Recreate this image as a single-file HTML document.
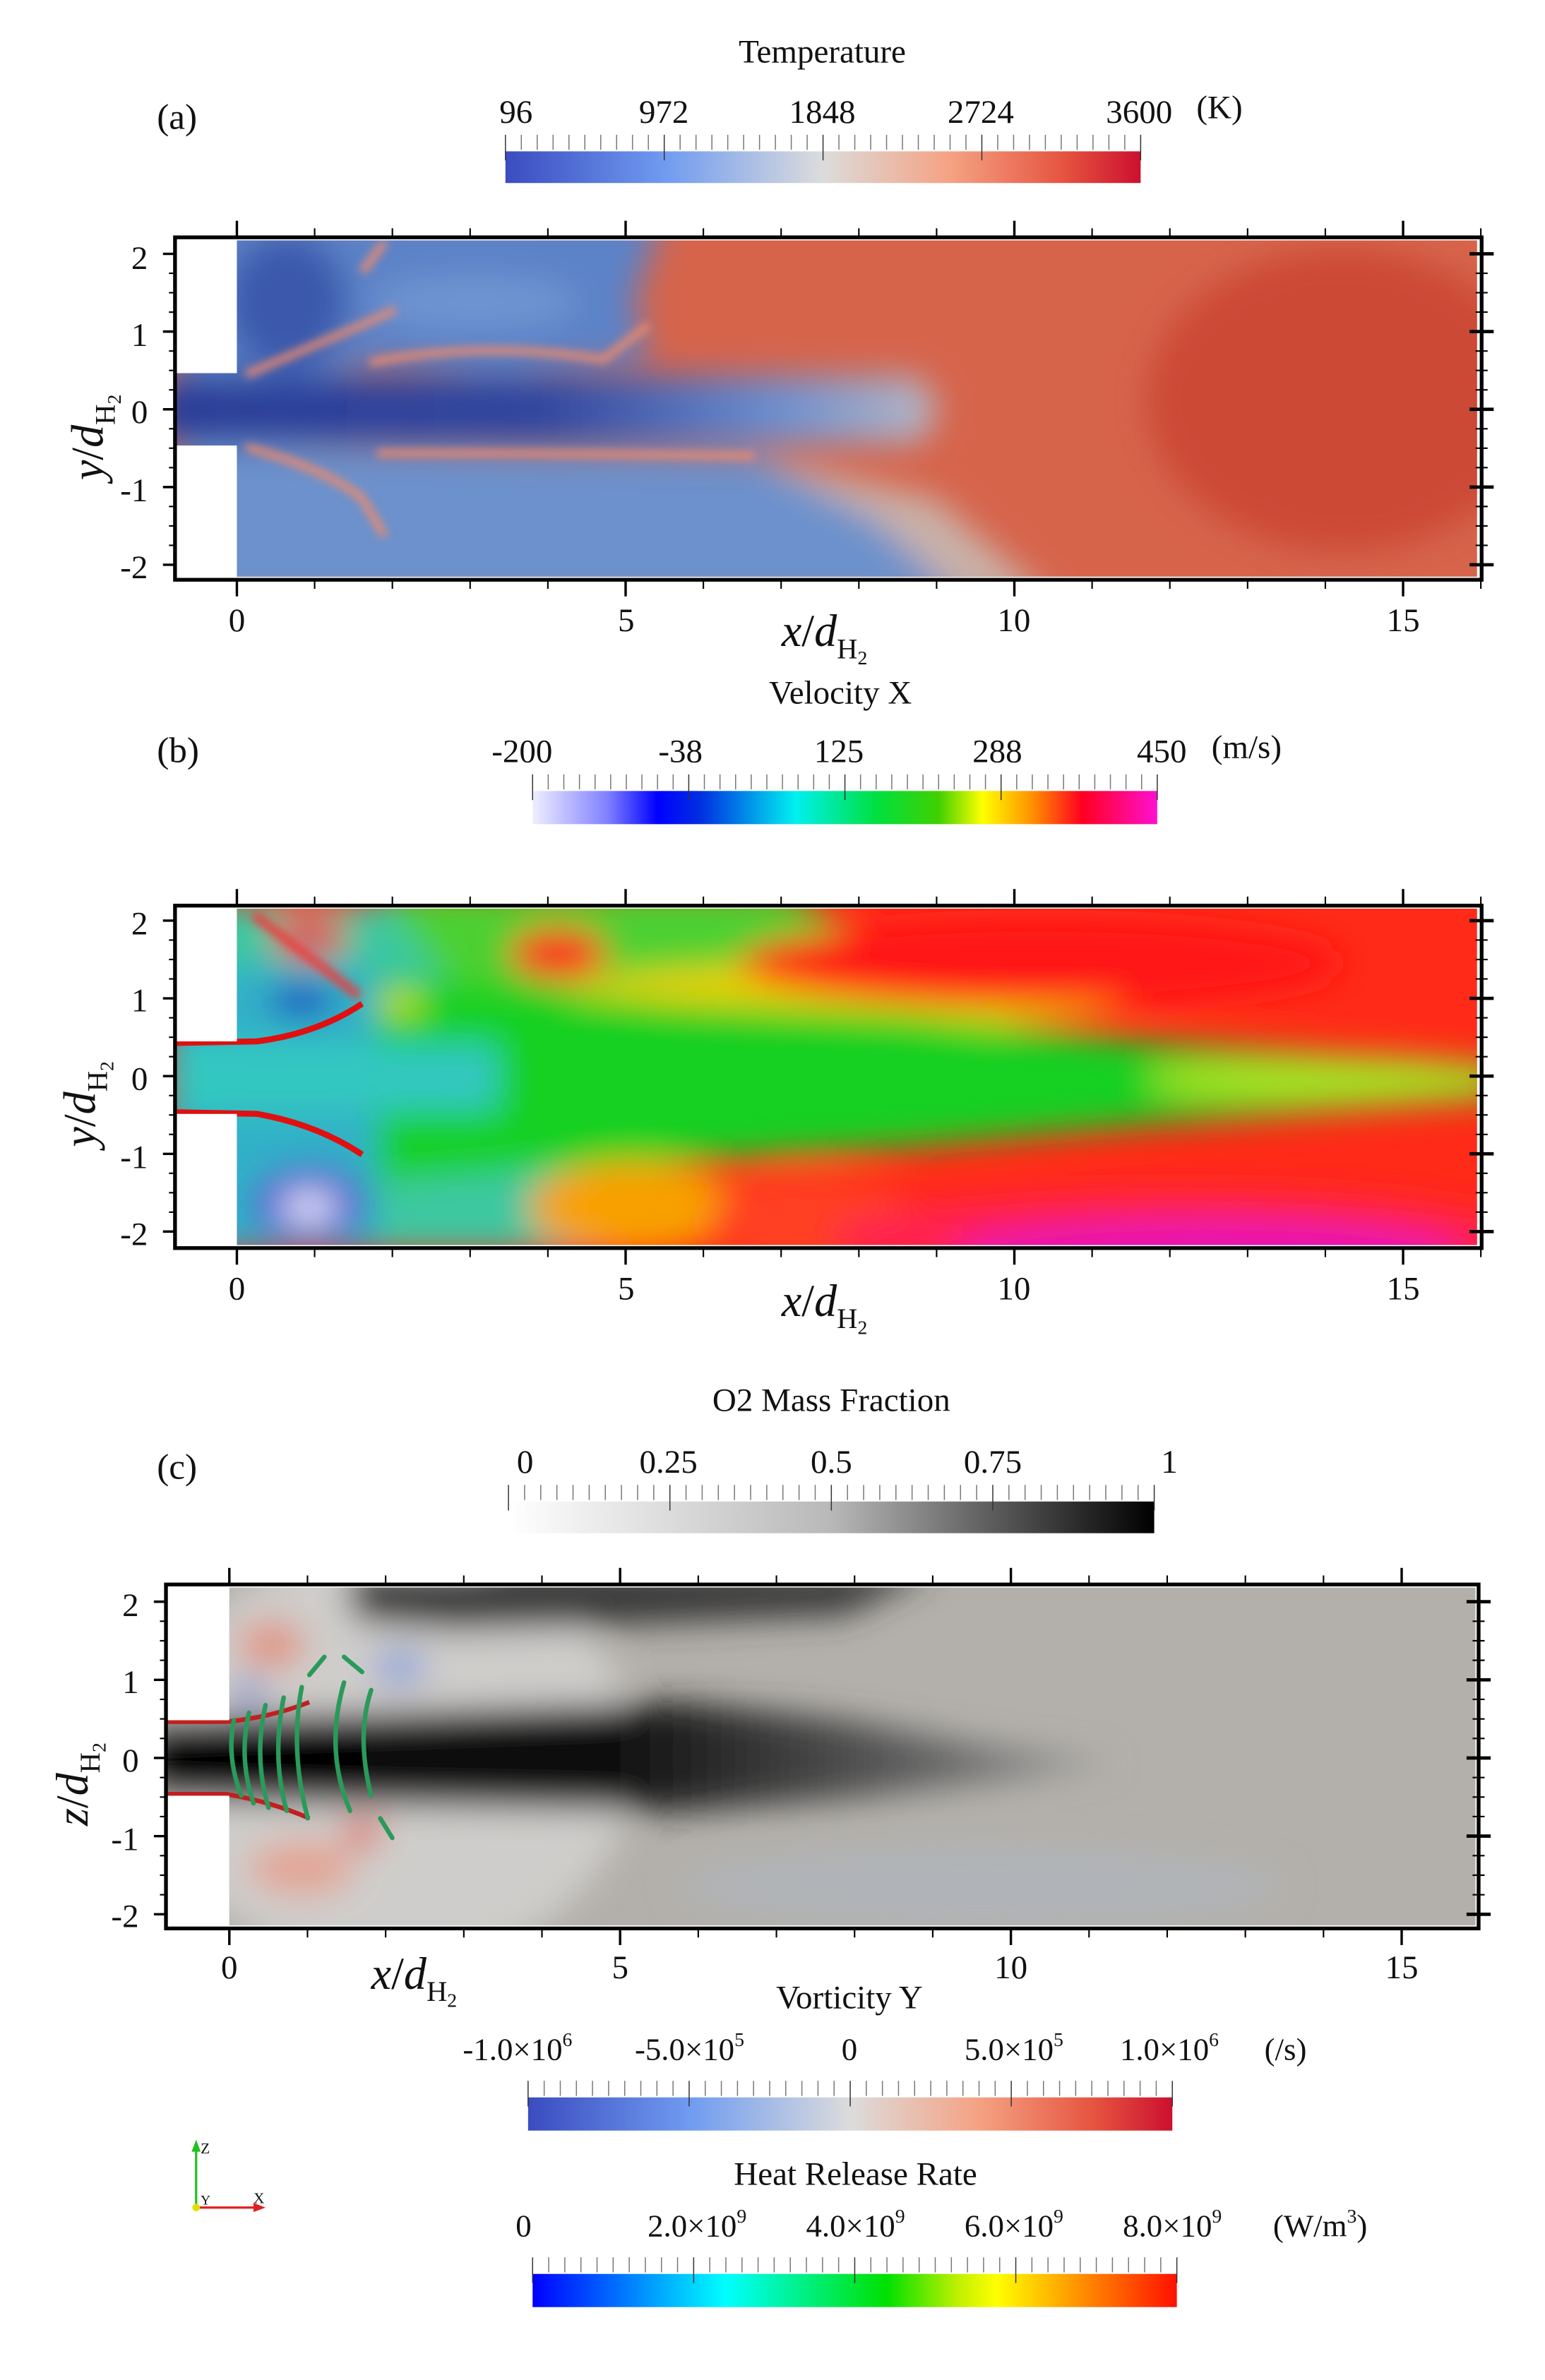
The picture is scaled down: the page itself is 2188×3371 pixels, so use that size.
<!DOCTYPE html>
<html><head><meta charset="utf-8"><style>
html,body{margin:0;padding:0;background:#fff}
svg{display:block}
text{font-family:"Liberation Serif",serif;fill:#111}
</style></head><body>
<svg id="s" width="2188" height="3371" viewBox="0 0 1024 1577" xmlns="http://www.w3.org/2000/svg">
<defs>
<linearGradient id="gT" x1="0" x2="1"><stop offset="0" stop-color="#3b4cc0"/><stop offset=".25" stop-color="#6f9bf0"/><stop offset=".5" stop-color="#dcdcdc"/><stop offset=".7" stop-color="#f5a283"/><stop offset=".88" stop-color="#e5533f"/><stop offset="1" stop-color="#cc1030"/></linearGradient>
<linearGradient id="gV" x1="0" x2="1"><stop offset="0" stop-color="#eeeeff"/><stop offset=".12" stop-color="#8080ff"/><stop offset=".2" stop-color="#0000ff"/><stop offset=".27" stop-color="#0030e0"/><stop offset=".42" stop-color="#00f0f0"/><stop offset=".55" stop-color="#00e040"/><stop offset=".65" stop-color="#40d000"/><stop offset=".72" stop-color="#ffff00"/><stop offset=".8" stop-color="#ff9000"/><stop offset=".88" stop-color="#ff0020"/><stop offset="1" stop-color="#ff10d0"/></linearGradient>
<linearGradient id="gO" x1="0" x2="1"><stop offset="0" stop-color="#ffffff"/><stop offset=".5" stop-color="#b8b8b8"/><stop offset="1" stop-color="#000"/></linearGradient>
<linearGradient id="gH" x1="0" x2="1"><stop offset="0" stop-color="#0000ff"/><stop offset=".3" stop-color="#00ffff"/><stop offset=".55" stop-color="#00e000"/><stop offset=".66" stop-color="#c0f000"/><stop offset=".72" stop-color="#ffff00"/><stop offset=".85" stop-color="#ff9000"/><stop offset="1" stop-color="#ff1000"/></linearGradient>
<linearGradient id="gCore" x1="0" x2="1"><stop offset="0" stop-color="#050505"/><stop offset=".45" stop-color="#080808"/><stop offset=".75" stop-color="#555"/><stop offset="1" stop-color="#9a9a9a"/></linearGradient>
<linearGradient id="gCoreA" x1="0" x2="1"><stop offset="0" stop-color="#2a3d98"/><stop offset=".5" stop-color="#2f46a0"/><stop offset=".8" stop-color="#6d8fcf"/><stop offset="1" stop-color="#b9b6c2"/></linearGradient>
<filter id="b5" filterUnits="userSpaceOnUse" x="0" y="0" width="1024" height="1577"><feGaussianBlur stdDeviation="11"/></filter>
<filter id="b2" filterUnits="userSpaceOnUse" x="0" y="0" width="1024" height="1577"><feGaussianBlur stdDeviation="3"/></filter>
<clipPath id="ca"><rect x="157" y="159" width="822" height="223"/><rect x="116" y="247" width="41" height="48"/></clipPath>
<clipPath id="cb"><rect x="157" y="602" width="822" height="223"/><rect x="116" y="690" width="41" height="48"/></clipPath>
<clipPath id="cc"><rect x="152" y="1052" width="826" height="224"/><rect x="110" y="1140" width="42" height="50"/></clipPath>
</defs>

<!-- Panel a -->
<text x="545" y="41" font-size="22" text-anchor="middle">Temperature</text>
<text x="104" y="85" font-size="24">(a)</text>
<g font-size="22" text-anchor="middle"><text x="342" y="81">96</text><text x="440" y="81">972</text><text x="545" y="81">1848</text><text x="650" y="81">2724</text><text x="755" y="81">3600</text></g>
<text x="793" y="78" font-size="22">(K)</text>
<rect x="335" y="100" width="421" height="21" fill="url(#gT)"/>
<g id="cba" data-x="335" data-w="421" data-y="100"></g>

<g clip-path="url(#ca)">
<rect x="110" y="155" width="880" height="230" fill="#d6644b"/>
<g filter="url(#b5)">
<ellipse cx="890" cy="265" rx="130" ry="100" fill="#cc4a36"/>
<polygon points="120,140 440,140 420,200 430,238 330,248 250,240 200,252 120,252" fill="#5b82c8"/>
<ellipse cx="190" cy="200" rx="40" ry="45" fill="#3a58ac"/>
<polygon points="120,292 260,298 500,302 580,345 640,400 120,400" fill="#6c91cc"/>
<polygon points="500,302 580,345 640,400 700,400 620,330" fill="#c9b1a8"/>
<rect x="100" y="249" width="520" height="45" rx="20" fill="url(#gCoreA)"/>
<ellipse cx="315" cy="200" rx="70" ry="18" fill="#7094d0"/>
</g>
<g filter="url(#b2)" fill="none" stroke="#ea8a6e" stroke-width="5">
<path d="M163,248 Q210,228 240,215 L262,205"/>
<path d="M245,240 Q320,225 400,238 L430,215"/>
<path d="M240,180 L255,160"/>
<path d="M163,296 Q215,310 240,330 L255,355"/>
<path d="M250,300 Q380,300 500,302"/>
</g>
</g>

<!-- Panel b -->
<text x="557" y="466" font-size="22" text-anchor="middle">Velocity X</text>
<text x="104" y="505" font-size="24">(b)</text>
<g font-size="22" text-anchor="middle"><text x="346" y="505">-200</text><text x="451" y="505">-38</text><text x="556" y="505">125</text><text x="661" y="505">288</text><text x="770" y="505">450</text></g>
<text x="803" y="502" font-size="22">(m/s)</text>
<rect x="353" y="524" width="414" height="22" fill="url(#gV)"/>
<g id="cbb" data-x="353" data-w="414" data-y="524"></g>

<g clip-path="url(#cb)">
<rect x="110" y="598" width="880" height="232" fill="#ff2a18"/>
<g filter="url(#b5)">
<rect x="110" y="598" width="300" height="232" fill="#3cc8a0"/>
<polygon points="250,590 520,590 600,640 460,660 300,655" fill="#4cd030"/>
<ellipse cx="560" cy="660" rx="190" ry="22" fill="#e8d000"/>
<polygon points="157,650 300,650 450,665 600,672 760,690 990,705 990,728 760,745 600,760 450,770 350,775 157,790" fill="#14d024"/>
<ellipse cx="880" cy="715" rx="120" ry="16" fill="#a8e020"/>
<ellipse cx="690" cy="638" rx="200" ry="28" fill="#ff1818"/>
<ellipse cx="370" cy="632" rx="32" ry="17" fill="#ff2020"/>
<ellipse cx="420" cy="800" rx="70" ry="30" fill="#f8a000"/>
<ellipse cx="540" cy="810" rx="70" ry="30" fill="#ff4020"/>
<ellipse cx="780" cy="820" rx="230" ry="30" fill="#ff2050"/>
<ellipse cx="800" cy="830" rx="170" ry="22" fill="#e814b0"/>
<rect x="110" y="640" width="140" height="190" fill="#30b0c8"/>
<polygon points="110,690 330,692 330,736 110,738" fill="#30c8c0"/>
<ellipse cx="205" cy="620" rx="25" ry="18" fill="#d86060"/>
<ellipse cx="200" cy="663" rx="22" ry="9" fill="#2020c0"/>
<ellipse cx="205" cy="798" rx="38" ry="25" fill="#4858d0"/>
<ellipse cx="205" cy="800" rx="20" ry="12" fill="#dcdcf4"/>
<ellipse cx="265" cy="665" rx="15" ry="6" fill="#e8e020"/>
</g>
<g filter="url(#b2)">
<path d="M168,606 Q200,630 238,660" stroke="#e84040" stroke-width="6" fill="none"/>
</g>
<path d="M116,691 L170,690 Q210,685 240,665" stroke="#e01010" stroke-width="4" fill="none"/>
<path d="M116,737 L170,738 Q210,745 240,765" stroke="#e01010" stroke-width="4" fill="none"/>
</g>

<!-- Panel c -->
<text x="551" y="935" font-size="22" text-anchor="middle">O2 Mass Fraction</text>
<text x="104" y="980" font-size="24">(c)</text>
<g font-size="22" text-anchor="middle"><text x="348" y="976">0</text><text x="443" y="976">0.25</text><text x="551" y="976">0.5</text><text x="658" y="976">0.75</text><text x="775" y="976">1</text></g>
<rect x="337" y="995" width="428" height="21" fill="url(#gO)"/>
<g id="cbc" data-x="337" data-w="428" data-y="995"></g>

<g clip-path="url(#cc)">
<rect x="105" y="1045" width="880" height="240" fill="#b3b0ab"/>
<g filter="url(#b5)">
<ellipse cx="260" cy="1165" rx="160" ry="140" fill="#cfcdcb"/>
<ellipse cx="650" cy="1250" rx="200" ry="25" fill="#b0b4b8"/>
<polygon points="230,1040 620,1040 560,1070 380,1078 300,1080 235,1074" fill="#383838"/>
<polygon points="100,1140 260,1135 450,1128 560,1140 660,1158 740,1168 660,1180 560,1192 450,1200 260,1196 100,1192" fill="url(#gCore)"/>
<ellipse cx="180" cy="1090" rx="22" ry="16" fill="#e09585"/>
<ellipse cx="200" cy="1238" rx="35" ry="18" fill="#e3a595"/>
<ellipse cx="240" cy="1215" rx="14" ry="9" fill="#e06050"/>
<ellipse cx="265" cy="1105" rx="18" ry="11" fill="#8aa0d8"/>
<ellipse cx="165" cy="1122" rx="12" ry="7" fill="#6080d0"/>
</g>
<path d="M110,1141 L150,1141 Q180,1138 205,1128" stroke="#c02020" stroke-width="3" fill="none"/>
<path d="M110,1189 L150,1189 Q180,1194 205,1205" stroke="#c02020" stroke-width="3" fill="none"/>
<g stroke="#2a9a5a" stroke-width="3" fill="none" stroke-linecap="round">
<path d="M155,1140 Q150,1165 160,1190"/><path d="M165,1135 Q158,1165 168,1195"/><path d="M176,1130 Q168,1165 178,1198"/><path d="M188,1125 Q180,1165 190,1200"/><path d="M200,1118 Q192,1160 204,1205"/>
<path d="M228,1115 Q215,1160 232,1200"/><path d="M246,1120 Q236,1150 246,1190"/>
<path d="M205,1110 L215,1098"/><path d="M252,1205 L260,1218"/><path d="M228,1098 L240,1108"/>
</g>
</g>

<!-- vorticity & HRR colorbars -->
<text x="563" y="1331" font-size="22" text-anchor="middle">Vorticity Y</text>
<g font-size="21" text-anchor="middle">
<text x="343" y="1365">-1.0×10<tspan font-size="13" dy="-9">6</tspan></text>
<text x="457" y="1365">-5.0×10<tspan font-size="13" dy="-9">5</tspan></text>
<text x="563" y="1365">0</text>
<text x="672" y="1365">5.0×10<tspan font-size="13" dy="-9">5</tspan></text>
<text x="775" y="1365">1.0×10<tspan font-size="13" dy="-9">6</tspan></text>
<text x="852" y="1365">(/s)</text>
</g>
<rect x="350" y="1390" width="427" height="22" fill="url(#gT)"/>
<g id="cbd" data-x="350" data-w="427" data-y="1390"></g>
<text x="567" y="1448" font-size="22" text-anchor="middle">Heat Release Rate</text>
<g font-size="21" text-anchor="middle">
<text x="347" y="1482">0</text>
<text x="462" y="1482">2.0×10<tspan font-size="13" dy="-9">9</tspan></text>
<text x="567" y="1482">4.0×10<tspan font-size="13" dy="-9">9</tspan></text>
<text x="672" y="1482">6.0×10<tspan font-size="13" dy="-9">9</tspan></text>
<text x="777" y="1482">8.0×10<tspan font-size="13" dy="-9">9</tspan></text>
<text x="875" y="1482">(W/m<tspan font-size="13" dy="-9">3</tspan><tspan dy="9">)</tspan></text>
</g>
<rect x="353" y="1507" width="427" height="22" fill="url(#gH)"/>
<g id="cbe" data-x="353" data-w="427" data-y="1507"></g>

<!-- triad -->
<line x1="130" y1="1463" x2="130" y2="1422" stroke="#20c020" stroke-width="1.5"/>
<line x1="130" y1="1463" x2="172" y2="1463" stroke="#e02020" stroke-width="1.5"/>
<polygon points="127,1426 133,1426 130,1418" fill="#20c020"/>
<polygon points="168,1460 168,1466 176,1463" fill="#e02020"/>
<circle cx="130" cy="1463" r="2.5" fill="#e0e000"/>
<text x="133" y="1427" font-size="10">Z</text><text x="133" y="1461" font-size="9">Y</text><text x="168" y="1460" font-size="10">X</text>

<!-- axes labels -->
<g font-size="22" text-anchor="middle">
<text x="157" y="418">0</text><text x="415" y="418">5</text><text x="672" y="418">10</text><text x="930" y="418">15</text>
<text x="157" y="861">0</text><text x="415" y="861">5</text><text x="672" y="861">10</text><text x="930" y="861">15</text>
<text x="152" y="1311">0</text><text x="411" y="1311">5</text><text x="670" y="1311">10</text><text x="929" y="1311">15</text>
</g>
<g font-size="22" text-anchor="end">
<text x="98" y="178">2</text><text x="98" y="229">1</text><text x="98" y="280">0</text><text x="98" y="332">-1</text><text x="98" y="383">-2</text>
<text x="98" y="619">2</text><text x="98" y="670">1</text><text x="98" y="722">0</text><text x="98" y="774">-1</text><text x="98" y="825">-2</text>
<text x="92" y="1071">2</text><text x="92" y="1122">1</text><text x="92" y="1174">0</text><text x="92" y="1226">-1</text><text x="92" y="1277">-2</text>
</g>
<g font-size="30">
<text x="518" y="428"><tspan font-style="italic">x</tspan>/<tspan font-style="italic">d</tspan><tspan font-size="19" dy="8">H</tspan><tspan font-size="13" dy="4">2</tspan></text>
<text x="518" y="872"><tspan font-style="italic">x</tspan>/<tspan font-style="italic">d</tspan><tspan font-size="19" dy="8">H</tspan><tspan font-size="13" dy="4">2</tspan></text>
<text x="246" y="1318"><tspan font-style="italic">x</tspan>/<tspan font-style="italic">d</tspan><tspan font-size="19" dy="8">H</tspan><tspan font-size="13" dy="4">2</tspan></text>
<text transform="translate(68,318) rotate(-90)"><tspan font-style="italic">y</tspan>/<tspan font-style="italic">d</tspan><tspan font-size="19" dy="8">H</tspan><tspan font-size="13" dy="4">2</tspan></text>
<text transform="translate(63,760) rotate(-90)"><tspan font-style="italic">y</tspan>/<tspan font-style="italic">d</tspan><tspan font-size="19" dy="8">H</tspan><tspan font-size="13" dy="4">2</tspan></text>
<text transform="translate(58,1210) rotate(-90)"><tspan font-style="italic">z</tspan>/<tspan font-style="italic">d</tspan><tspan font-size="19" dy="8">H</tspan><tspan font-size="13" dy="4">2</tspan></text>
</g>

<g id="ax"></g>
</svg>
<script>
(function(){
var NS="http://www.w3.org/2000/svg",ax=document.getElementById("ax");
function L(x1,y1,x2,y2,w){var l=document.createElementNS(NS,"line");l.setAttribute("x1",x1);l.setAttribute("y1",y1);l.setAttribute("x2",x2);l.setAttribute("y2",y2);l.setAttribute("stroke","#000");l.setAttribute("stroke-width",w);ax.appendChild(l);}
function R(x,y,w,h){var r=document.createElementNS(NS,"rect");r.setAttribute("x",x);r.setAttribute("y",y);r.setAttribute("width",w);r.setAttribute("height",h);r.setAttribute("fill","none");r.setAttribute("stroke","#000");r.setAttribute("stroke-width",2.5);ax.appendChild(r);}
function axes(x0,x1,y0,y1,xz,yz,u){
 R(x0,y0,x1-x0,y1-y0);
 for(var i=-1;i<=16;i++){var x=xz+i*u;if(x<x0-0.5||x>x1+0.5)continue;var maj=i%5==0;var t=maj?11:6;L(x,y0,x,y0-t,maj?1.6:1);L(x,y1,x,y1+t,maj?1.6:1);}
 for(var j=-9;j<=9;j++){var y=yz-j*u/4;if(y<y0||y>y1)continue;var maj=j%4==0;var t=maj?8:4;L(x0,y,x0-t,y,maj?1.6:1);L(x1-t,y,x1+t,y,maj?2.2:1);}
}
axes(116,982,157,384,157,271,51.53);
axes(116,982,600,827,157,713,51.53);
axes(110,980,1050,1278,152,1165,51.8);
["cba","cbb","cbc","cbd","cbe"].forEach(function(id){var g=document.getElementById(id);var x=+g.dataset.x,w=+g.dataset.w,y=+g.dataset.y;
 for(var k=0;k<=40;k++){var xx=x+w*k/40;var maj=k%10==0;var l=document.createElementNS(NS,"line");l.setAttribute("x1",xx);l.setAttribute("x2",xx);l.setAttribute("y1",y-11);l.setAttribute("y2",maj?y+6:y-1);l.setAttribute("stroke",maj?"#333":"#777");l.setAttribute("stroke-width",0.7);g.parentNode.appendChild(l);}});
})();
</script>
</body></html>
